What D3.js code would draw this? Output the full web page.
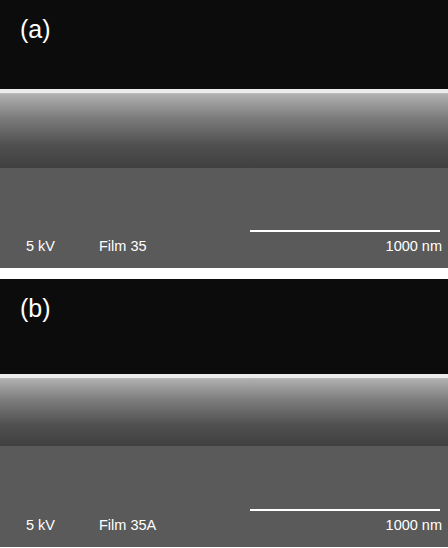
<!DOCTYPE html>
<html><head><meta charset="utf-8">
<script src="https://cdn.jsdelivr.net/npm/d3@7"></script>
<style>body{margin:0;background:#fff}text{font-family:Arial,"Liberation Sans",sans-serif;fill:#fff}</style>
</head><body><svg width="448" height="548"></svg>
<script>
const panels = ['(a)', '(b)'];
const films = ['Film 35', 'Film 35A'];
const voltages = ['5 kV', '5 kV'];
const scaleLabels = ['1000 nm', '1000 nm'];
// film surface and film/substrate interface (px within a 268px panel)
const surfaceY = [90, 96];
const interfaceY = [168, 167];
// grey levels down through the film (fraction of thickness, grey)
const filmOffsets = [0, 0.06, 0.35, 0.7, 1];
const filmGreys = [225, 175, 125, 80, 64];

const svg = d3.select('svg');
const width = 448, panelH = 268, gap = 11;
const defs = svg.append('defs');

panels.forEach((label, i) => {
  const top = i * (panelH + gap);
  const g = svg.append('g').attr('transform', `translate(0,${top})`);
  const y = d3.scaleLinear().domain([0, 1]).range([surfaceY[i], interfaceY[i]]);
  const grad = defs.append('linearGradient').attr('id', 'film' + i)
    .attr('gradientUnits', 'userSpaceOnUse')
    .attr('x1', 0).attr('x2', 0).attr('y1', y(0)).attr('y2', y(1));
  grad.selectAll('stop').data(filmOffsets).enter().append('stop')
    .attr('offset', d => d)
    .attr('stop-color', (d, k) => d3.rgb(filmGreys[k], filmGreys[k], filmGreys[k]));

  g.append('rect').attr('width', width).attr('height', panelH).attr('fill', '#0c0c0c');
  g.append('rect').attr('y', y(0)).attr('width', width).attr('height', y(1) - y(0)).attr('fill', `url(#film${i})`);
  g.append('rect').attr('y', y(0) - 1).attr('width', width).attr('height', 4).attr('fill', '#ececec');
  g.append('rect').attr('y', y(1)).attr('width', width).attr('height', panelH - y(1)).attr('fill', '#5a5a5a');

  g.append('text').attr('x', 20).attr('y', 38).attr('font-size', 25).text(label);
  g.append('line').attr('x1', 250).attr('x2', 440).attr('y1', 231).attr('y2', 231)
    .attr('stroke', '#fff').attr('stroke-width', 2);
  g.append('text').attr('x', 26).attr('y', 251).attr('font-size', 14.5).text(voltages[i]);
  g.append('text').attr('x', 99).attr('y', 251).attr('font-size', 14.5).text(films[i]);
  g.append('text').attr('x', 442).attr('y', 251).attr('font-size', 14.5).attr('text-anchor', 'end').text(scaleLabels[i]);
});
</script></body></html>
